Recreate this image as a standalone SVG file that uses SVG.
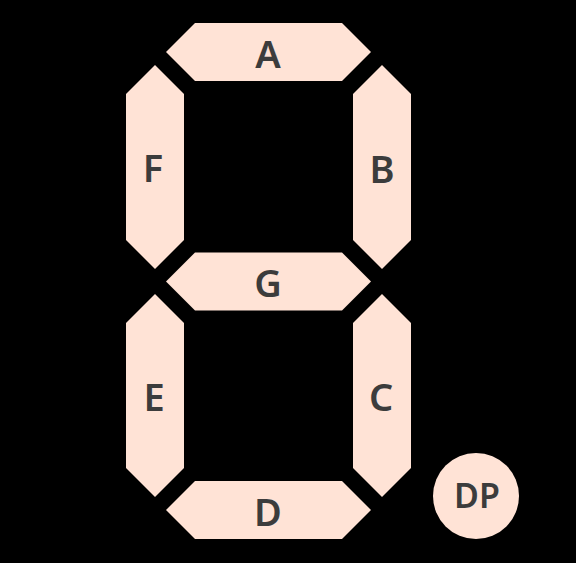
<svg xmlns="http://www.w3.org/2000/svg" width="576" height="563" viewBox="0 0 576 563">
<style>
.seg{fill:#FFE3D6}
.lbl{font-family:"Noto Sans","Open Sans",sans-serif;font-weight:600;font-size:38px;fill:#3C3C3C;text-anchor:middle}
</style>
<rect width="576" height="563" fill="#000"/>
<g id="A"><polygon class="seg" points="166,52 195,23 342,23 371,52 342,81 195,81"/><text class="lbl" x="268" y="68">A</text></g>
<g id="F"><polygon class="seg" points="155,65 184,94 184,240 155,269 126,240 126,94"/><text class="lbl" x="153" y="182">F</text></g>
<g id="B"><polygon class="seg" points="382,65 411,94 411,240 382,269 353,240 353,94"/><text class="lbl" x="382" y="183">B</text></g>
<g id="G"><polygon class="seg" points="166,281.5 195,252.5 342,252.5 371,281.5 342,310.5 195,310.5"/><text class="lbl" x="268" y="297">G</text></g>
<g id="E"><polygon class="seg" points="155,294 184,323 184,468 155,497 126,468 126,323"/><text class="lbl" x="154" y="411">E</text></g>
<g id="C"><polygon class="seg" points="382,294 411,323 411,468 382,497 353,468 353,323"/><text class="lbl" x="381" y="411">C</text></g>
<g id="D"><polygon class="seg" points="166,510 195,481 342,481 371,510 342,539 195,539"/><text class="lbl" x="268" y="526">D</text></g>
<g id="DP"><circle class="seg" cx="476" cy="496" r="43"/><text class="lbl" x="477" y="508" style="font-size:34px">DP</text></g>
<g id="connectors"/>
</svg>
